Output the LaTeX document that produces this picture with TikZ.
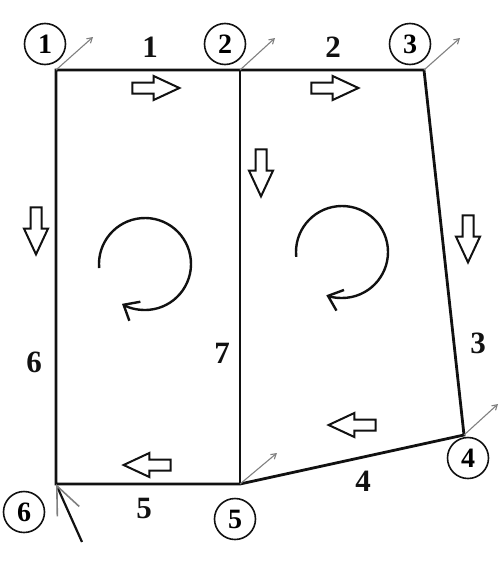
\documentclass[tikz,border=0pt]{standalone}
\usepackage{fontspec}
\setmainfont{Liberation Serif}
\usepackage{tikz}
\usetikzlibrary{arrows.meta,shapes.arrows}
\definecolor{ink}{HTML}{111111}
\definecolor{pale}{HTML}{808080}
\tikzset{
  wire/.style={draw=ink, line width=2.8pt, line join=miter},
  feed/.style={draw=pale, line width=1.1pt, -{Straight Barb[length=5pt,width=6pt]}},
  inflow/.style={draw=ink, line width=2.2pt, -{Straight Barb[length=28pt,width=24pt,line width=1.6pt,color=pale]}},
  turn/.style={draw=ink, line width=2.4pt, -{Straight Barb[length=13pt,width=22pt]}},
  flow/.style={single arrow, draw=ink, line width=2pt, fill=white, inner sep=0pt,
    text width=9pt, text height=4.5pt, text depth=4.5pt, minimum height=47pt,
    single arrow head extend=6.5pt, single arrow tip angle=50},
  junc/.style={circle, draw=ink, line width=1.6pt, inner sep=0pt, minimum size=41pt,
    font=\fontsize{28}{30}\selectfont\bfseries},
  lbl/.style={text=ink, font=\fontsize{31}{33}\selectfont\bfseries}
}
\begin{document}
\begin{tikzpicture}[x=1pt, y=-1pt]
  \useasboundingbox (0,0) rectangle (499,565);

  % junctions
  \coordinate (n1) at (56,70);
  \coordinate (n2) at (240,70);
  \coordinate (n3) at (424,70);
  \coordinate (n4) at (464,435);
  \coordinate (n5) at (240,484);
  \coordinate (n6) at (56,484);

  \draw[wire] (n1) -- (n2) -- (n3) -- (n4) -- (n5) -- (n6) -- cycle;
  \draw[wire] (n2) -- (n5);

  % small outgoing arrows
  \coordinate (t1) at (93,37);
  \coordinate (t2) at (275,38);
  \coordinate (t3) at (460,38);
  \coordinate (t4) at (498,404);
  \coordinate (t5) at (277,453);
  \draw[feed] (n1) -- (t1);
  \draw[feed] (n2) -- (t2);
  \draw[feed] (n3) -- (t3);
  \draw[feed] (n4) -- (t4);
  \draw[feed] (n5) -- (t5);

  \coordinate (s6) at (82,542);
  \draw[inflow] (s6) -- (n6);

  % branch directions
  \node[flow] (a1) at (150,88) {};
  \node[flow] (a2) at (329,88) {};
  \node[flow, shape border rotate=270] (a7) at (261,167) {};
  \node[flow, shape border rotate=270] (a6) at (36,225) {};
  \node[flow, shape border rotate=270] (a3) at (468,233) {};
  \node[flow, shape border rotate=180] (a4) at (358,425) {};
  \node[flow, shape border rotate=180] (a5) at (153,465) {};

  % loop directions
  \coordinate (o1) at (145,264);
  \coordinate (o2) at (342,252);
  \draw[turn] (o1) ++(-185:46) arc[start angle=-185, end angle=120, radius=46];
  \draw[turn] (o2) ++(-186:46) arc[start angle=-186, end angle=110, radius=46];

  % branch numbers
  \node[lbl] (b1) at (150,47) {1};
  \node[lbl] (b2) at (333,47) {2};
  \node[lbl] (b3) at (478,343) {3};
  \node[lbl] (b4) at (363,481) {4};
  \node[lbl] (b5) at (144,508) {5};
  \node[lbl] (b6) at (34,362) {6};
  \node[lbl] (b7) at (222,353) {7};

  % junction numbers
  \node[junc] (c1) at (45,44) {1};
  \node[junc] (c2) at (225,44) {2};
  \node[junc] (c3) at (410,44) {3};
  \node[junc] (c4) at (468,458) {4};
  \node[junc] (c5) at (235,519) {5};
  \node[junc] (c6) at (24,512) {6};
\end{tikzpicture}
\end{document}
